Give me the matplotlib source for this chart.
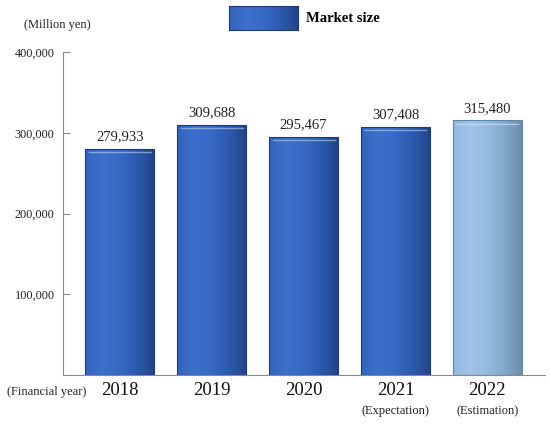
import numpy as np
import matplotlib
matplotlib.use("Agg")
import matplotlib.pyplot as plt
from matplotlib.colors import LinearSegmentedColormap
from matplotlib.ticker import FuncFormatter

# Data
years = ["2018", "2019", "2020", "2021", "2022"]
notes = ["", "", "", "(Expectation)", "(Estimation)"]
market_size = [279933, 309688, 295467, 307408, 315480]
is_estimate = [False, False, False, False, True]

plt.rcParams["font.family"] = ["Liberation Serif", "DejaVu Serif"]

dark_cmap = LinearSegmentedColormap.from_list(
    "dark", ["#3363bc", "#3d70cc", "#3769c5", "#2d5aae", "#22458a"])
light_cmap = LinearSegmentedColormap.from_list(
    "light", ["#8fb8df", "#a0c4e8", "#95bbe0", "#82a8cc", "#6b8ea8"])
grad = np.linspace(0, 1, 256).reshape(1, -1)

fig = plt.figure(figsize=(5.5, 4.24), dpi=100)
ax = fig.add_axes([0.1145, 0.1156, 0.8765, 0.7614])

x = np.arange(len(years))
bars = ax.bar(x, market_size, width=0.75, color="none", edgecolor="#1d3a78",
              linewidth=0.8, zorder=3)

for bar, est in zip(bars, is_estimate):
    x0, w, h = bar.get_x(), bar.get_width(), bar.get_height()
    cmap = light_cmap if est else dark_cmap
    im = ax.imshow(grad, cmap=cmap, aspect="auto",
                   extent=[x0, x0 + w, 0, h], zorder=2)
    im.set_clip_path(bar)
    # bevel highlight along the top
    ax.plot([x0 + w * 0.05, x0 + w * 0.95], [h - 4000, h - 4000],
            color="#b8d0f0" if not est else "#dbe9f7", lw=1.0, alpha=0.6, zorder=4)
    if est:
        bar.set_edgecolor("#5f85a8")

for xi, v in zip(x, market_size):
    ax.annotate(f"{v:,}", (xi, v), xytext=(0, 4), textcoords="offset points",
                ha="center", va="bottom", fontsize=10.5, color="#222222")

ax.set_xlim(-0.62, 4.63)
ax.set_ylim(0, 400000)
ax.set_yticks([100000, 200000, 300000, 400000])
ax.yaxis.set_major_formatter(FuncFormatter(lambda v, p: f"{int(v):,}"))
ax.tick_params(axis="y", direction="in", length=5, color="#888888",
               labelsize=8.8, pad=6, labelcolor="#222222")
ax.set_xticks(x)
ax.set_xticklabels(years, fontsize=13.5)
ax.tick_params(axis="x", length=0, pad=5, labelcolor="#111111")

for xi, n in zip(x, notes):
    if n:
        ax.annotate(n, (xi, 0), xytext=(0, -26), textcoords="offset points",
                    ha="center", va="center", fontsize=9, color="#222222",
                    annotation_clip=False)

for side in ["top", "right"]:
    ax.spines[side].set_visible(False)
ax.spines["left"].set_color("#888888")
ax.spines["bottom"].set_color("#888888")

fig.text(0.013, 1 - 392 / 424, "(Financial year)", fontsize=9, va="center",
         ha="left", color="#222222")
fig.text(0.044, 1 - 25 / 424, "(Million yen)", fontsize=9, va="center",
         ha="left", color="#222222")

# legend swatch
lax = fig.add_axes([229 / 550, 1 - 30 / 424, 69 / 550, 24 / 424])
lax.imshow(grad, cmap=dark_cmap, aspect="auto")
lax.set_xticks([])
lax.set_yticks([])
for s in lax.spines.values():
    s.set_color("#1d3a78")
fig.text(306 / 550, 1 - 19 / 424, "Market size", fontsize=10.5,
         fontweight="bold", va="center", ha="left")

fig.savefig("out.png", dpi=100)
